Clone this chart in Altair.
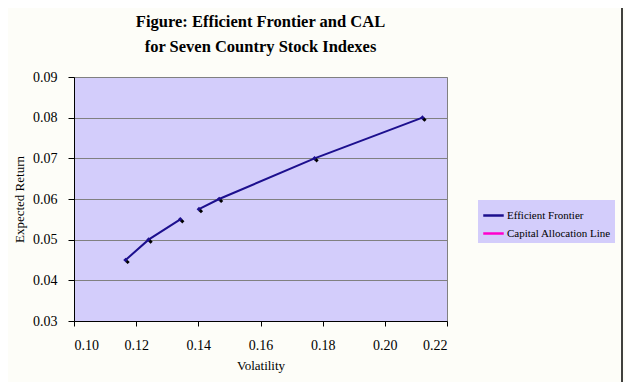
import altair as alt
import pandas as pd

# Efficient frontier points (volatility, expected return)
vol = [0.1166, 0.1240, 0.1342, 0.1402, 0.1467, 0.1774, 0.2121]
ret = [0.0450, 0.0500, 0.0550, 0.0575, 0.0600, 0.0700, 0.0800]
segment = [1, 1, 1, 2, 2, 2, 2]

series_names = ["Efficient Frontier", "Capital Allocation Line"]
series_colors = ["#1C0F8E", "#FF00CC"]

x_ticks = [0.10, 0.12, 0.14, 0.16, 0.18, 0.20, 0.22]
y_ticks = [0.03, 0.04, 0.05, 0.06, 0.07, 0.08, 0.09]

df = pd.DataFrame({
    "Volatility": vol,
    "Expected Return": ret,
    "seg": segment,
    "series": [series_names[0]] * len(vol),
})

FONT = "'Liberation Serif', 'Times New Roman', serif"

x = alt.X("Volatility:Q",
          scale=alt.Scale(domain=[0.10, 0.22], nice=False, zero=False),
          axis=alt.Axis(values=x_ticks, format=".2f", grid=False, title="Volatility",
                        domainColor="black", tickColor="black", tickSize=5,
                        labelFontSize=14, labelPadding=12, titleFontSize=13,
                        titlePadding=7, titleFontWeight="normal",
                        labelFont=FONT, titleFont=FONT, labelColor="black",
                        titleColor="black"))
y = alt.Y("Expected Return:Q",
          scale=alt.Scale(domain=[0.03, 0.09], nice=False, zero=False),
          axis=alt.Axis(values=y_ticks, format=".2f", grid=True, gridColor="#808080",
                        gridWidth=1, title="Expected Return",
                        domainColor="black", tickColor="black", tickSize=6,
                        labelFontSize=14, labelPadding=11, titleFontSize=13,
                        titlePadding=6, titleFontWeight="normal",
                        labelFont=FONT, titleFont=FONT, labelColor="black",
                        titleColor="black"))

color = alt.Color("series:N",
                  scale=alt.Scale(domain=series_names, range=series_colors),
                  legend=alt.Legend(title=None, orient="none", legendX=404, legendY=123,
                                    fillColor="#D3CDFB", padding=4, symbolType="stroke",
                                    symbolStrokeWidth=2.5, symbolSize=420,
                                    labelFont=FONT, labelFontSize=11,
                                    labelColor="black", rowPadding=1, labelOffset=2))

line = alt.Chart(df).mark_line(strokeWidth=2).encode(
    x=x, y=y, color=color, detail="seg:N")

marks_navy = alt.Chart(df).mark_point(shape="diamond", filled=True, size=22,
                                      opacity=1, color="#1C0F8E").encode(x=x, y=y)
marks_black = alt.Chart(df).mark_point(shape="diamond", filled=True, size=18,
                                       opacity=1, color="black",
                                       xOffset=2, yOffset=2).encode(x=x, y=y)

# right edge of the chart object frame
frame = alt.Chart(pd.DataFrame({"k": [0]})).mark_rule(
    color="black", strokeWidth=1.5, clip=False).encode(
    x=alt.value(548), y=alt.value(-69), y2=alt.value(305))

chart = alt.layer(line, marks_navy, marks_black, frame).properties(
    width=373, height=244,
    autosize=alt.AutoSizeParams(type="none"),
    padding={"left": 66, "top": 69, "right": 178, "bottom": 61},
    background="#FDFDF8",
    title=alt.Title(["Figure: Efficient Frontier and CAL",
                     "for Seven Country Stock Indexes"],
                    font=FONT, fontSize=16.5, fontWeight="bold", color="black",
                    anchor="middle", lineHeight=25, offset=-48),
).configure_view(fill="#D3CDFB", stroke="#808080", strokeWidth=1)

chart.save("out.html", embed_options={"renderer": "svg", "actions": False})
